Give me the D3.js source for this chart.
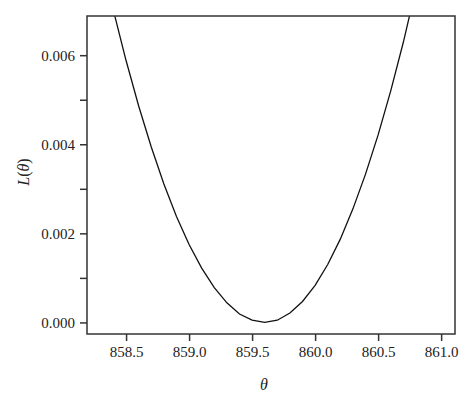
<!DOCTYPE html>
<html><head><meta charset="utf-8">
<script src="https://cdn.jsdelivr.net/npm/d3@7"></script>
<style>body{margin:0;background:#fff}</style>
</head><body><div id="chart"></div>
<script>
// data
var theta = [858.4, 858.5, 858.6, 858.7, 858.8, 858.9, 859.0, 859.1, 859.2, 859.3, 859.4, 859.5, 859.6,
             859.7, 859.8, 859.9, 860.0, 860.1, 860.2, 860.3, 860.4, 860.5, 860.6, 860.7, 860.8];
var lik = [0.0070, 0.00588, 0.00486, 0.00394, 0.00311, 0.00238, 0.00175, 0.00122, 0.00078, 0.00044, 0.00019, 0.00005, 0,
           0.00005, 0.00021, 0.00047, 0.00083, 0.0013, 0.00187, 0.00255, 0.00333, 0.00421, 0.0052, 0.00629, 0.0075];
var xTicks = [858.5, 859.0, 859.5, 860.0, 860.5, 861.0];
var yTicks = [0, 0.002, 0.004, 0.006];
var yMinor = [0.001, 0.003, 0.005];

var serif = "'Liberation Serif', 'DejaVu Serif', serif";
var svgWidth = 474, svgHeight = 402;
var margin = {top: 16, right: 19, bottom: 68, left: 87};
var chartWidth = svgWidth - margin.left - margin.right;
var chartHeight = svgHeight - margin.top - margin.bottom;

var svg = d3.select("#chart").append("svg")
  .attr("width", svgWidth).attr("height", svgHeight);
var chartGroup = svg.append("g")
  .attr("transform", `translate(${margin.left}, ${margin.top})`);

var xScale = d3.scaleLinear().domain([858.19, 861.11]).range([0, chartWidth]);
var yScale = d3.scaleLinear().domain([-0.00026, 0.00688]).range([chartHeight, 0]);

svg.append("clipPath").attr("id", "clip").append("rect")
  .attr("width", chartWidth).attr("height", chartHeight);

// curve
chartGroup.append("path")
  .datum(theta.map((t, i) => [t, lik[i]]))
  .attr("clip-path", "url(#clip)")
  .attr("fill", "none").attr("stroke", "#111").attr("stroke-width", 1.3)
  .attr("d", d3.line().x(d => xScale(d[0])).y(d => yScale(d[1])));

// frame
chartGroup.append("rect")
  .attr("width", chartWidth).attr("height", chartHeight)
  .attr("fill", "none").attr("stroke", "#333").attr("stroke-width", 1.5);

// axes
var xAxis = d3.axisBottom(xScale).tickValues(xTicks).tickFormat(d3.format(".1f")).tickSize(7).tickPadding(5);
var gx = chartGroup.append("g").attr("transform", `translate(0, ${chartHeight})`).call(xAxis);
var yAxis = d3.axisLeft(yScale).tickValues(yTicks).tickFormat(d3.format(".3f")).tickSize(7).tickPadding(5);
var gy = chartGroup.append("g").call(yAxis);
var gm = chartGroup.append("g").call(d3.axisLeft(yScale).tickValues(yMinor).tickFormat("").tickSize(7));
[gx, gy, gm].forEach(function(g) {
  g.attr("font-family", serif).attr("font-size", 15);
  g.select(".domain").remove();
  g.selectAll("line").attr("stroke", "#333").attr("stroke-width", 1.5);
  g.selectAll("text").attr("fill", "#222");
});

// labels
chartGroup.append("text")
  .attr("x", chartWidth / 2 - 7).attr("y", chartHeight + 56)
  .attr("text-anchor", "middle").attr("font-family", serif).attr("font-size", 16)
  .attr("font-style", "italic").attr("fill", "#222")
  .text("θ");
chartGroup.append("text")
  .attr("transform", `translate(${-58}, ${172 - margin.top}) rotate(-90)`)
  .attr("text-anchor", "middle").attr("font-family", serif).attr("font-size", 16).attr("fill", "#222")
  .html('<tspan font-style="italic">L</tspan>(<tspan font-style="italic">θ</tspan>)');
</script></body></html>
